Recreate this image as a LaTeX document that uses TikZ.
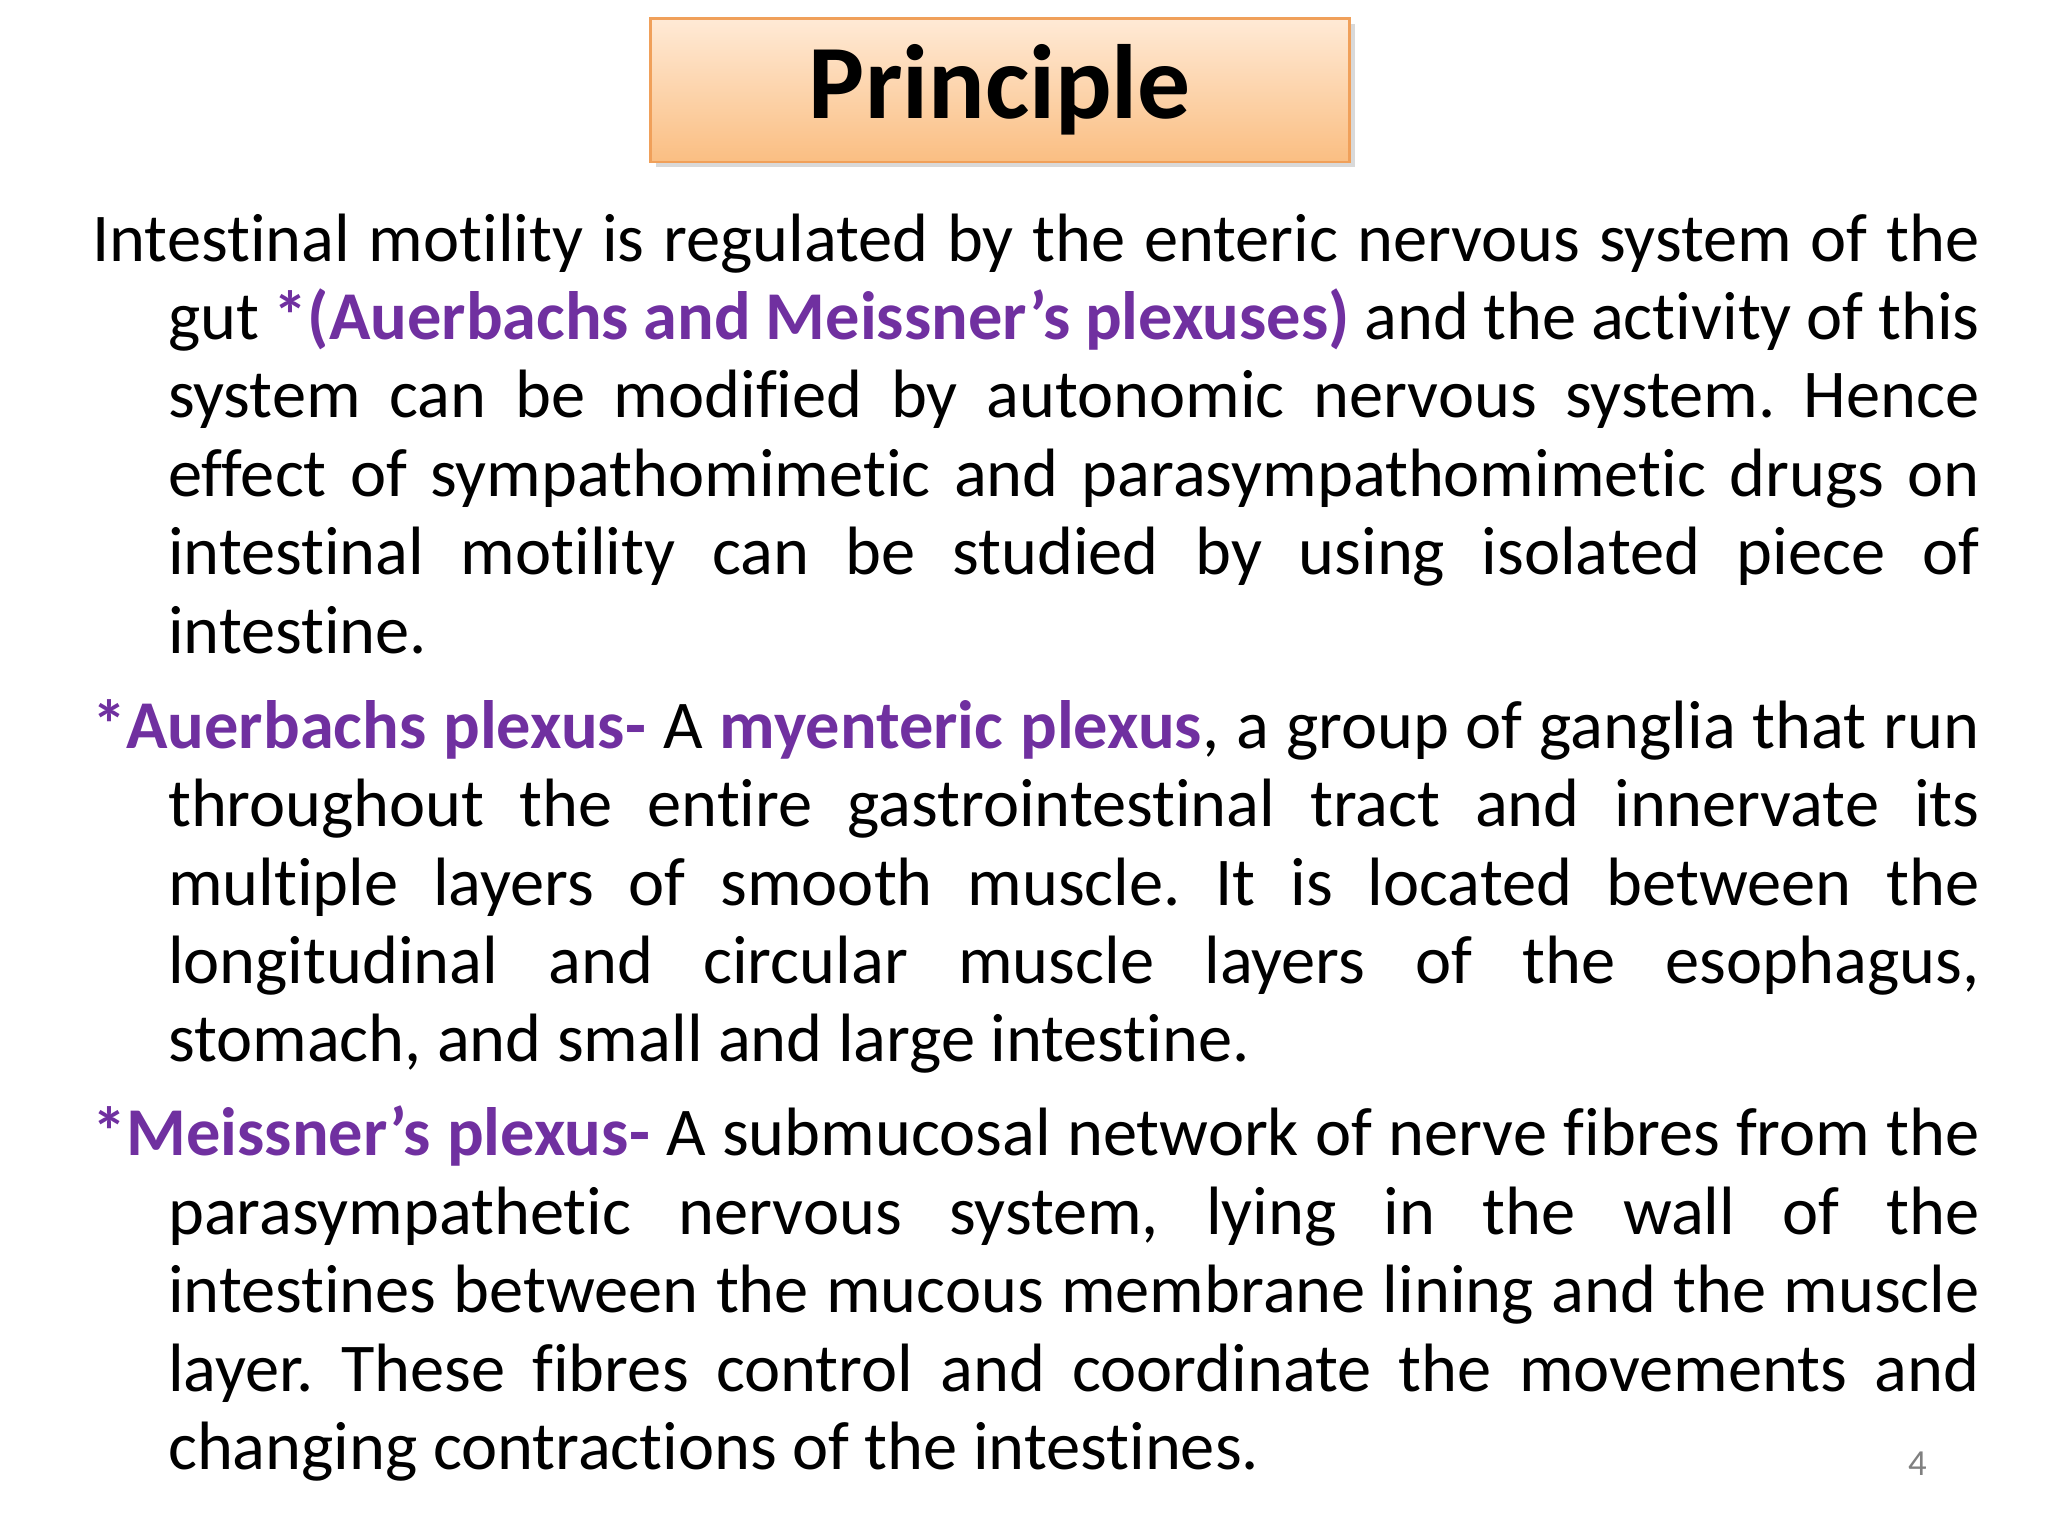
\documentclass[tikz,border=0pt]{standalone}
\usepackage{fontspec}
\setmainfont[RawFeature=-liga]{Carlito}
\frenchspacing
\usetikzlibrary{shadows}
\definecolor{purp}{RGB}{112,48,160}
\definecolor{peach1}{RGB}{255,234,214}
\definecolor{peach2}{RGB}{250,190,130}
\definecolor{orbord}{RGB}{240,160,90}
\tikzset{ln/.style={anchor=base west,inner sep=0pt,yshift=-0.03cm,font=\fontsize{14.9pt}{18pt}\selectfont}}
\newcommand{\fl}[1]{\makebox[14.45cm][s]{#1}}
\newcommand{\il}[1]{\makebox[13.87cm][s]{#1}}
\newcommand{\pb}[1]{\textcolor{purp}{\textbf{#1}}}
\begin{document}
\begin{tikzpicture}[x=1cm,y=1cm]
\useasboundingbox (0,0) rectangle (15.68,-11.76);
\node[draw=orbord,line width=0.6pt,top color=peach1,bottom color=peach2,drop shadow={opacity=0.3,shadow xshift=0.04cm,shadow yshift=-0.04cm},minimum width=5.35cm,minimum height=1.1cm,anchor=north west,inner sep=0pt,font=\fontsize{23pt}{28pt}\selectfont\bfseries] (title) at (4.97,-0.13) {\raisebox{-0.06cm}{Principle}};
\node[ln] (l1) at (0.70,-1.97) {\fl{Intestinal motility is regulated by the enteric nervous system of the}};
\node[ln] (l2) at (1.28,-2.57) {\il{gut \pb{*(Auerbachs and Meissner’s plexuses)} and the activity of this}};
\node[ln] (l3) at (1.28,-3.17) {\il{system can be modified by autonomic nervous system. Hence}};
\node[ln] (l4) at (1.28,-3.77) {\il{effect of sympathomimetic and parasympathomimetic drugs on}};
\node[ln] (l5) at (1.28,-4.37) {\il{intestinal motility can be studied by using isolated piece of}};
\node[ln] (l6) at (1.28,-4.97) {intestine.};
\node[ln] (m1) at (0.70,-5.70) {\fl{\pb{*Auerbachs plexus-} A \pb{myenteric plexus}, a group of ganglia that run}};
\node[ln] (m2) at (1.28,-6.30) {\il{throughout the entire gastrointestinal tract and innervate its}};
\node[ln] (m3) at (1.28,-6.90) {\il{multiple layers of smooth muscle. It is located between the}};
\node[ln] (m4) at (1.28,-7.50) {\il{longitudinal and circular muscle layers of the esophagus,}};
\node[ln] (m5) at (1.28,-8.10) {stomach, and small and large intestine.};
\node[ln] (n1) at (0.70,-8.82) {\fl{\pb{*Meissner’s plexus-} A submucosal network of nerve fibres from the}};
\node[ln] (n2) at (1.28,-9.42) {\il{parasympathetic nervous system, lying in the wall of the}};
\node[ln] (n3) at (1.28,-10.02) {\il{intestines between the mucous membrane lining and the muscle}};
\node[ln] (n4) at (1.28,-10.62) {\il{layer. These fibres control and coordinate the movements and}};
\node[ln] (n5) at (1.28,-11.22) {changing contractions of the intestines.};
\node[anchor=base,inner sep=0pt,text=gray,font=\fontsize{8pt}{10pt}\selectfont] (pg) at (14.68,-11.30) {4};
\end{tikzpicture}
\end{document}
